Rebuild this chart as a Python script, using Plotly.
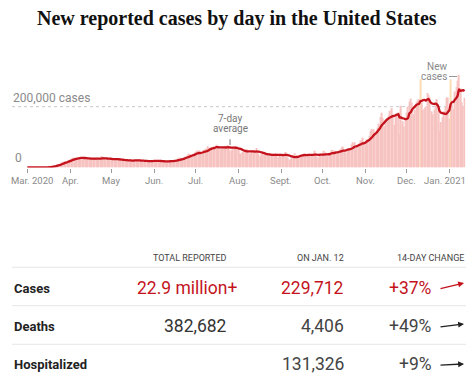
import pandas as pd
import plotly.graph_objects as go

# ---------------- data ----------------
cases_mar = [10, 20, 25, 30, 70, 80, 110, 120, 200, 290, 430, 480, 650, 700, 1000, 1250,
             1800, 2900, 4800, 5900, 6900, 9200, 10700, 10900, 13000, 17500, 19000, 19500,
             19800, 21500, 24500]
cases_apr = [26000, 29000, 32000, 33000, 28000, 30000, 31000, 32000, 34000, 34000, 30000,
             28000, 26000, 27000, 29000, 31000, 32000, 30000, 27000, 28000, 26000, 29000,
             31000, 38000, 33000, 27000, 24000, 25000, 27000, 30000]
cases_may = [33000, 29000, 26000, 23000, 24000, 25000, 29000, 28000, 26000, 21000, 19000,
             22000, 21000, 27000, 26000, 24000, 21000, 22000, 21000, 22000, 27000, 24000,
             23000, 20000, 18000, 19000, 20000, 22000, 24000, 25000, 21000]
cases_jun = [20000, 21000, 20000, 21000, 24000, 23000, 18000, 17000, 18000, 21000, 22000,
             24000, 25000, 19000, 19000, 23000, 25000, 28000, 32000, 32000, 26000, 29000,
             34000, 37000, 40000, 45000, 44000, 41000, 39000, 46000]
cases_jul = [51000, 55000, 57000, 45000, 44000, 47000, 58000, 62000, 61000, 70000, 66000,
             60000, 62000, 66000, 68000, 75000, 71000, 63000, 60000, 61000, 64000, 71000,
             70000, 74000, 66000, 55000, 57000, 65000, 70000, 68000, 69000]
cases_aug = [58000, 46000, 46000, 52000, 53000, 57000, 61000, 55000, 46000, 46000, 52000,
             55000, 51000, 64000, 52000, 43000, 38000, 44000, 46000, 45000, 47000, 45000,
             35000, 37000, 38000, 45000, 45000, 47000, 43000, 34000, 36000]
cases_sep = [42000, 40000, 45000, 51000, 42000, 31000, 26000, 26000, 33000, 35000, 47000,
             41000, 34000, 37000, 39000, 40000, 44000, 48000, 43000, 36000, 40000, 39000,
             39000, 44000, 55000, 45000, 35000, 33000, 43000, 40000]
cases_oct = [45000, 55000, 49000, 35000, 38000, 43000, 51000, 58000, 57000, 54000, 46000,
             42000, 52000, 59000, 65000, 69000, 57000, 48000, 58000, 61000, 63000, 76000,
             83000, 83000, 60000, 67000, 74000, 80000, 90000, 99000, 85000]
cases_nov = [75000, 93000, 92000, 104000, 120000, 127000, 126000, 106000, 120000, 131000,
             144000, 166000, 180000, 162000, 136000, 158000, 161000, 170000, 187000, 196000,
             175000, 140000, 173000, 175000, 182000, 108000, 203000, 152000, 135000, 159000]
cases_dec = [180000, 200000, 217000, 227000, 213000, 175000, 190000, 215000, 220000, 225000,
             290000, 220000, 190000, 195000, 200000, 245000, 238000, 230000, 185000, 175000,
             190000, 210000, 225000, 190000, 120000, 150000, 165000, 185000, 200000, 230000,
             230000]
cases_jan = [160000, 290000, 210000, 192000, 250000, 265000, 285000, 305000, 260000, 215000,
             200000, 229712]

first_day = "2020-03-01"
highlight_days = ["2020-12-11", "2021-01-02"]   # lighter (backlog) bars

month_ticks = ["2020-03-01", "2020-04-01", "2020-05-01", "2020-06-01", "2020-07-01",
               "2020-08-01", "2020-09-01", "2020-10-01", "2020-11-01", "2020-12-01",
               "2021-01-01"]
month_labels = ["Mar. 2020", "Apr.", "May", "Jun.", "Jul.", "Aug.", "Sept.", "Oct.",
                "Nov.", "Dec.", "Jan. 2021"]

table_headers = ["TOTAL REPORTED", "ON JAN. 12", "14-DAY CHANGE"]
row_labels = ["Cases", "Deaths", "Hospitalized"]
total_reported = ["22.9 million+", "382,682", ""]
on_jan12 = ["229,712", "4,406", "131,326"]
change_14day = ["+37%", "+49%", "+9%"]
spark_rise = [6, 3, 1.4]        # slope of the little trend arrows (px)
row_red = [True, False, False]

# ---------------- build ----------------
daily = (cases_mar + cases_apr + cases_may + cases_jun + cases_jul + cases_aug +
         cases_sep + cases_oct + cases_nov + cases_dec + cases_jan)
dates = pd.date_range(first_day, periods=len(daily), freq="D")
s = pd.Series(daily, index=dates)
avg7 = s.rolling(7, min_periods=1).mean()

# the page body has an 8px margin: the figure is drawn 8px in from the window corner
OFF = 8
W, H = 474 - OFF, 383 - OFF
def px(x):
    return (x - OFF) / W
def py(y):
    return 1 - (y - OFF) / H

RED = "#c4131d"
BAR = "#f6c3c1"
HIL = "#fcdcb4"
GRAY = "#8a8a8a"
DARK = "#333333"
SANS = "Roboto, 'Liberation Sans', Arial, sans-serif"

bar_colors = [HIL if d.strftime("%Y-%m-%d") in highlight_days else BAR for d in dates]

fig = go.Figure()
fig.add_trace(go.Bar(x=dates, y=daily, marker=dict(color=bar_colors, line=dict(width=0)),
                     hoverinfo="skip"))
fig.add_trace(go.Scatter(x=dates, y=avg7, mode="lines",
                         line=dict(color=RED, width=2.3, shape="spline", smoothing=0.6),
                         hoverinfo="skip"))

x0 = dates[0] - pd.Timedelta(hours=12)
x1 = dates[-1] + pd.Timedelta(hours=12)
y_base, y_200 = 167.5, 106.7
ymax = 200000 * (y_base - 60) / (y_base - y_200)

fig.update_layout(
    template="none",
    width=W, height=H, margin=dict(l=0, r=0, t=0, b=0, autoexpand=False),
    paper_bgcolor="white", plot_bgcolor="white", showlegend=False,
    bargap=0.18,
    font=dict(family=SANS, color=DARK),
    xaxis=dict(type="date", range=[x0, x1], domain=[px(26.6), px(465.2)],
               automargin=False, showticklabels=False,
               tickvals=month_ticks, ticks="outside", ticklen=4,
               tickcolor="#9a9a9a", tickwidth=1,
               showgrid=False, zeroline=False, showline=False),
    yaxis=dict(range=[0, ymax], domain=[py(y_base), py(60)], showticklabels=False,
               automargin=False,
               showgrid=False, zeroline=False, showline=False),
)

shapes = []
# 200,000 dotted reference line
shapes.append(dict(type="line", xref="paper", yref="y", x0=px(12), x1=px(465),
                   y0=200000, y1=200000, layer="below",
                   line=dict(color="#c8c8c8", width=1, dash="dot")))
# 7-day average pointer
shapes.append(dict(type="line", xref="x", yref="y", x0="2020-07-26", x1="2020-07-26",
                   y0=74000, y1=93000, line=dict(color="#777", width=1)))
# dash next to "New cases"
shapes.append(dict(type="line", xref="paper", yref="paper", x0=px(449), x1=px(457),
                   y0=py(76.5), y1=py(76.5), line=dict(color="#999", width=1)))
# table dividers
for yy in [267.3, 305.7, 344.3]:
    shapes.append(dict(type="line", xref="paper", yref="paper", x0=px(12), x1=px(467),
                       y0=py(yy), y1=py(yy), line=dict(color="#e6e6e6", width=1)))
fig.update_layout(shapes=shapes)

ann = []
def text(x, y, t, size, color=DARK, anchor="left", family=SANS, bold=False):
    ann.append(dict(x=px(x), y=py(y), xref="paper", yref="paper", text=t,
                    showarrow=False, xanchor=anchor, yanchor="middle",
                    font=dict(size=size, color=color, family=family,
                              weight="bold" if bold else "normal")))

# month labels: inner ones centred on their tick, the two end ones pulled inside
for i, (tv, tl) in enumerate(zip(month_ticks, month_labels)):
    if i == 0:
        text(9, 180, tl, 9.5, GRAY, "left")
    elif i == len(month_ticks) - 1:
        text(468, 180, tl, 9.5, GRAY, "right")
    else:
        ann.append(dict(x=tv, y=py(180), xref="x", yref="paper", text=tl,
                        showarrow=False, xanchor="center", yanchor="middle",
                        font=dict(size=9.5, color=GRAY, family=SANS)))

text(237, 18.5, "New reported cases by day in the United States", 20, "#111", "center",
     "'Liberation Serif', 'Times New Roman', serif", True)
text(11, 97.5, "200,000 cases", 12, GRAY)
text(12.5, 158, "0", 12, GRAY)
text(230, 118.5, "7-day", 10, "#777", "center")
text(230, 128.5, "average", 10, "#777", "center")
text(436.5, 66.5, "New", 10, "#8a8a8a", "center")
text(433.5, 76, "cases", 10, "#8a8a8a", "center")

# table header
hdr_right = [229, 346, 466]
for xr, h in zip(hdr_right, table_headers):
    text(xr, 258, h, 9, "#444", "right")

row_y = [288, 326, 364.3]
val_right = [238.5, 229, 346, 433.5]
for i, lab in enumerate(row_labels):
    c = RED if row_red[i] else DARK
    c2 = RED if row_red[i] else "#444"
    text(11.5, row_y[i], lab, 13, "#222", "left", SANS, True)
    if total_reported[i]:
        text(val_right[0] if row_red[i] else val_right[1], row_y[i], total_reported[i], 17.5, c, "right")
    text(val_right[2], row_y[i], on_jan12[i], 17.5, c2, "right")
    text(val_right[3], row_y[i], change_14day[i], 17.5, c2, "right")
    # small trend arrow
    ann.append(dict(x=px(464), y=py(row_y[i] + 1 - spark_rise[i]), xref="paper", yref="paper",
                    ax=-25, ay=spark_rise[i], axref="pixel", ayref="pixel",
                    text="", showarrow=True, arrowhead=2, arrowsize=0.9, arrowwidth=1.3,
                    arrowcolor=RED if row_red[i] else "#222"))

fig.update_layout(annotations=ann)
fig.write_html("out.html")
